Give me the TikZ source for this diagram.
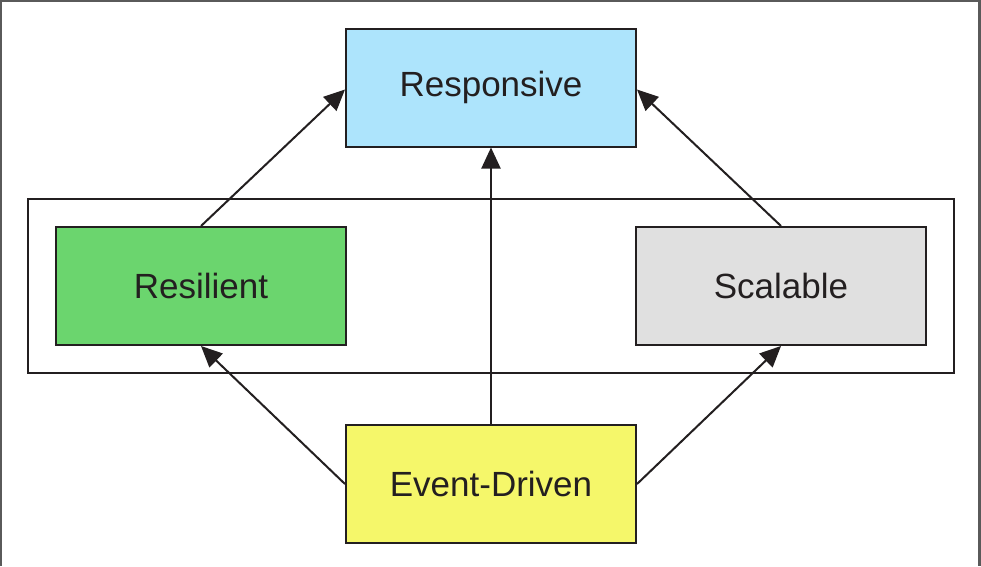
\documentclass[tikz,border=0pt]{standalone}
\usepackage{fontspec}
\setmainfont{Liberation Sans}
\usetikzlibrary{arrows.meta}
\definecolor{respblue}{RGB}{173,228,252}
\definecolor{resgreen}{RGB}{107,213,110}
\definecolor{scalgray}{RGB}{224,224,224}
\definecolor{evyellow}{RGB}{245,247,106}
\definecolor{edge}{RGB}{35,31,32}
\definecolor{frame}{RGB}{90,90,90}
\tikzset{
  box/.style={draw=edge, line width=2pt, minimum width=290pt, minimum height=118pt,
    inner sep=0pt, font=\fontsize{35}{40}\selectfont, text=edge},
  conn/.style={draw=edge, line width=2pt, -{Triangle[length=21pt,width=19pt]}},
}
\begin{document}
\begin{tikzpicture}[x=1pt,y=-1pt]
\useasboundingbox (0,0) rectangle (981,566);
\fill[white] (0,0) rectangle (981,566);
\draw[frame, line width=2.5pt] (1.2,566) -- (1.2,1.2) -- (979.5,1.2) -- (979.5,566);
\node[draw=edge, line width=2pt, minimum width=926pt, minimum height=174pt, inner sep=0pt] (group) at (491,286) {};
\node[box, fill=respblue] (resp) at (491,87.5) {Responsive};
\node[box, fill=resgreen] (resil) at (201,286) {Resilient};
\node[box, fill=scalgray] (scal) at (781,286) {Scalable};
\node[box, fill=evyellow] (event) at (491,484) {Event-Driven};
\coordinate (respL) at ([yshift=-2pt]resp.west);
\coordinate (respR) at ([yshift=-2pt]resp.east);
\draw[conn] (resil.north) -- (respL);
\draw[conn] (scal.north) -- (respR);
\draw[conn] (event.north) -- (resp.south);
\draw[conn] (event.west) -- (resil.south);
\draw[conn] (event.east) -- (scal.south);
\end{tikzpicture}
\end{document}
